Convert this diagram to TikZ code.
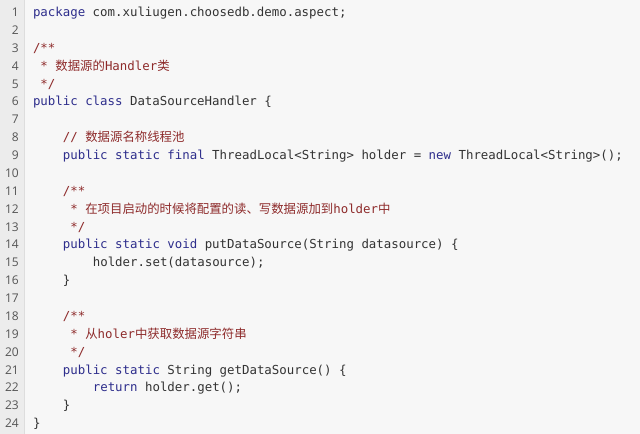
\documentclass[tikz,border=0pt]{standalone}
\usepackage{fontspec}
\setmonofont{DejaVu Sans Mono}
\newfontfamily\zhfont{Noto Sans CJK SC}
\newfontfamily\numfont{Open Sans}
\definecolor{bgmain}{HTML}{F7F7F7}
\definecolor{bggut}{HTML}{ECECEC}
\definecolor{gutline}{HTML}{DDDDDD}
\definecolor{txt}{HTML}{333333}
\definecolor{kwc}{HTML}{2E2E8C}
\definecolor{cmc}{HTML}{8E2B2B}
\definecolor{numc}{HTML}{555555}
\newcommand\kw[1]{\textcolor{kwc}{#1}}
\newcommand\zh[1]{{\zhfont #1}}
\newcommand\cx[1]{33+#1*7.48}
\newcommand\cy[1]{1.27-#1*17.87}
\tikzset{
  code/.style={anchor=base west,inner sep=0pt,outer sep=0pt,text=txt,
    font=\ttfamily\fontsize{12.4bp}{14bp}\selectfont},
  cmt/.style={code,text=cmc},
  lnum/.style={anchor=base east,inner sep=0pt,text=numc,
    font=\numfont\fontsize{12bp}{14bp}\selectfont},
}
\begin{document}
\begin{tikzpicture}[x=1bp,y=1bp]
\useasboundingbox (0,0) rectangle (640,-434);
\fill[bgmain] (0,0) rectangle (640,-434);
\fill[bggut] (0,0) rectangle (24,-434);
\draw[gutline,line width=0.6bp] (24,0) -- (24,-434);
\foreach \i in {1,...,24}{
  \node[lnum] (n\i) at ({19},{\cy{\i}}) {\i};
}
\node[code] (c1) at ({\cx{0}},{\cy{1}}) {\kw{package} com.xuliugen.choosedb.demo.aspect;};
\node[cmt] (c3) at ({\cx{0}},{\cy{3}}) {/**};
\node[cmt] (c4) at ({\cx{1}},{\cy{4}}) {* \zh{数据源的}Handler\zh{类}};
\node[cmt] (c5) at ({\cx{1}},{\cy{5}}) {*/};
\node[code] (c6) at ({\cx{0}},{\cy{6}}) {\kw{public} \kw{class} DataSourceHandler \{};
\node[cmt] (c8) at ({\cx{4}},{\cy{8}}) {// \zh{数据源名称线程池}};
\node[code] (c9) at ({\cx{4}},{\cy{9}}) {\kw{public} \kw{static} \kw{final} ThreadLocal<String> holder = \kw{new} ThreadLocal<String>();};
\node[cmt] (c11) at ({\cx{4}},{\cy{11}}) {/**};
\node[cmt] (c12) at ({\cx{5}},{\cy{12}}) {* \zh{在项目启动的时候将配置的读、写数据源加到}holder\zh{中}};
\node[cmt] (c13) at ({\cx{5}},{\cy{13}}) {*/};
\node[code] (c14) at ({\cx{4}},{\cy{14}}) {\kw{public} \kw{static} \kw{void} putDataSource(String datasource) \{};
\node[code] (c15) at ({\cx{8}},{\cy{15}}) {holder.set(datasource);};
\node[code] (c16) at ({\cx{4}},{\cy{16}}) {\}};
\node[cmt] (c18) at ({\cx{4}},{\cy{18}}) {/**};
\node[cmt] (c19) at ({\cx{5}},{\cy{19}}) {* \zh{从}holer\zh{中获取数据源字符串}};
\node[cmt] (c20) at ({\cx{5}},{\cy{20}}) {*/};
\node[code] (c21) at ({\cx{4}},{\cy{21}}) {\kw{public} \kw{static} String getDataSource() \{};
\node[code] (c22) at ({\cx{8}},{\cy{22}}) {\kw{return} holder.get();};
\node[code] (c23) at ({\cx{4}},{\cy{23}}) {\}};
\node[code] (c24) at ({\cx{0}},{\cy{24}}) {\}};
\end{tikzpicture}
\end{document}
